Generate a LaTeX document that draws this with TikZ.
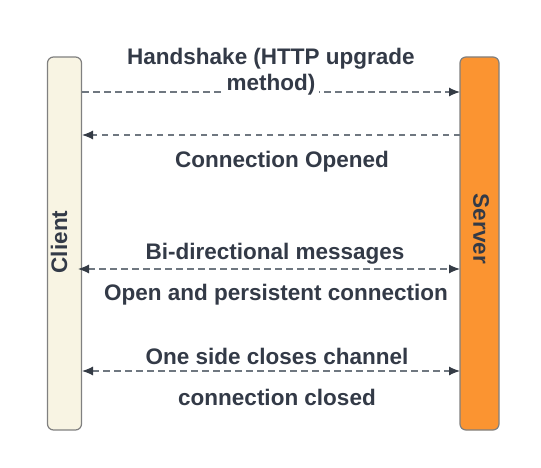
\documentclass[tikz,border=0pt]{standalone}
\usepackage{fontspec}
\setmainfont{Liberation Sans}
\usetikzlibrary{arrows.meta}
\definecolor{txt}{HTML}{333A47}
\definecolor{clientfill}{HTML}{F8F4E3}
\definecolor{serverfill}{HTML}{FB9431}
\definecolor{boxline}{HTML}{808080}
\definecolor{dashc}{HTML}{6F7780}
\definecolor{tipc}{HTML}{343B45}
\tikzset{
  lifebox/.style={draw=boxline, line width=1.2pt, rounded corners=6pt, inner sep=0pt},
  lbl/.style={text=txt, font=\fontsize{22.5}{26}\selectfont\bfseries, align=center, inner sep=0pt},
  msg/.style={draw=dashc, line width=1.1pt, dash pattern=on 6.5pt off 4.5pt},
  msgtip/.tip={Latex[length=11pt,width=9pt,color=tipc]}
}
\begin{document}
\begin{tikzpicture}[x=1pt,y=-1pt]
\useasboundingbox (0,0) rectangle (541,468);
\node[lifebox, fill=clientfill, minimum width=34pt, minimum height=373pt] (client) at (64.5,243.5) {};
\node[lifebox, fill=serverfill, minimum width=39pt, minimum height=373pt] (server) at (479.5,243.5) {};
\node[lbl, rotate=90] (clientlbl) at (59,242) {Client};
\node[lbl, rotate=-90] (serverlbl) at (481,229) {Server};
% message rows
\coordinate (c1) at (82,92);  \coordinate (s1) at (460,92);
\coordinate (c2) at (82,135); \coordinate (s2) at (460,135);
\coordinate (c3) at (78,269); \coordinate (s3) at (460,269);
\coordinate (c4) at (82,371); \coordinate (s4) at (460,371);
\draw[msg, -{msgtip}] (c1) -- (s1);
\draw[msg, -{msgtip}] (s2) -- (c2);
\draw[msg, {msgtip}-{msgtip}] (c3) -- (s3);
\draw[msg, {msgtip}-{msgtip}] (c4) -- (s4);
\node[lbl] (hs) at (271,59) {Handshake (HTTP upgrade};
\node[lbl, fill=white, inner xsep=4pt, inner ysep=1pt] (hsb) at (271,85) {method)};
\node[lbl] (co) at (282,162) {Connection Opened};
\node[lbl] (bd) at (275,254) {Bi-directional messages};
\node[lbl] (op) at (276,295) {Open and persistent connection};
\node[lbl] (os) at (277,356) {One side closes channel};
\node[lbl] (cc) at (277,397) {connection closed};
\end{tikzpicture}
\end{document}
